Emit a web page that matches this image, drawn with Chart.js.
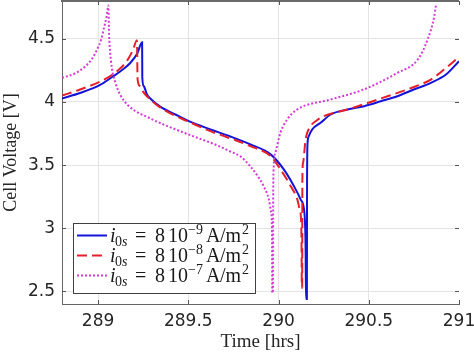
<!DOCTYPE html>
<html><head><meta charset="utf-8">
<script src="https://cdn.jsdelivr.net/npm/chart.js@4.4.1/dist/chart.umd.min.js"></script>
<style>html,body{margin:0;padding:0;background:#fff;overflow:hidden}canvas{display:block}</style>
</head><body>
<canvas id="c" width="474" height="353"></canvas>
<script>
// ---- data ----
const xTickValues = [289, 289.5, 290, 290.5, 291];
const yTickValues = [2.5, 3, 3.5, 4, 4.5];
const xTitle = 'Time [hrs]';
const yTitle = 'Cell Voltage [V]';
const legendExponents = ['\u22129', '\u22128', '\u22127'];

const blueTime = [288.8, 288.9, 289.011, 289.078, 289.122, 289.178, 289.217, 289.244, 289.245, 289.253,
  289.271, 289.289, 289.344, 289.428, 289.506, 289.622, 289.733, 289.844, 289.956, 290.029,
  290.085, 290.122, 290.141, 290.147, 290.150, 290.152, 290.157, 290.158, 290.161, 290.167,
  290.187, 290.233, 290.289, 290.382, 290.474, 290.567, 290.659, 290.75, 290.844, 290.928, 291.0];
const blueVoltage = [4.028, 4.071, 4.135, 4.198, 4.241, 4.309, 4.384, 4.473, 4.194, 4.126,
  4.059, 4.028, 3.964, 3.901, 3.846, 3.783, 3.727, 3.664, 3.585, 3.466,
  3.334, 3.229, 3.150, 3.03, 2.833, 2.44, 2.44, 3.387, 3.680, 3.727,
  3.783, 3.835, 3.901, 3.941, 3.967, 4.006, 4.046, 4.099, 4.152, 4.218, 4.323];

const redTime = [288.8, 288.9, 289.011, 289.067, 289.122, 289.161, 289.194, 289.215, 289.219, 289.233,
  289.25, 289.289, 289.361, 289.494, 289.622, 289.75, 289.844, 289.956, 290.011, 290.067,
  290.104, 290.117, 290.126, 290.128, 290.129, 290.131, 290.132, 290.136, 290.15, 290.178,
  290.211, 290.25, 290.382, 290.567, 290.75, 290.844, 290.917, 291.0];
const redVoltage = [4.051, 4.099, 4.162, 4.205, 4.265, 4.328, 4.415, 4.490, 4.178, 4.125,
  4.08, 4.02, 3.941, 3.849, 3.769, 3.703, 3.650, 3.571, 3.466, 3.334,
  3.229, 3.150, 3.03, 2.754, 2.53, 2.53, 3.387, 3.519, 3.703, 3.809,
  3.854, 3.888, 3.941, 4.028, 4.119, 4.178, 4.257, 4.356];

const magentaTime = [288.8, 288.872, 288.928, 288.967, 288.994, 289.017, 289.033, 289.047, 289.057, 289.061,
  289.067, 289.076, 289.094, 289.122, 289.167, 289.289, 289.472, 289.661, 289.733, 289.789,
  289.844, 289.889, 289.918, 289.946, 289.958, 289.964, 289.965, 289.969, 289.970, 289.972,
  289.983, 290.011, 290.048, 290.104, 290.289, 290.472, 290.659, 290.771, 290.826, 290.863, 290.872];
const magentaVoltage = [4.192, 4.226, 4.281, 4.344, 4.415, 4.495, 4.589, 4.676, 4.765, 4.534,
  4.392, 4.273, 4.162, 4.059, 3.972, 3.870, 3.759, 3.656, 3.608, 3.569,
  3.490, 3.403, 3.332, 3.229, 3.134, 2.952, 2.49, 2.49, 3.150, 3.442,
  3.601, 3.759, 3.862, 3.941, 4.020, 4.099, 4.231, 4.336, 4.495, 4.679, 4.765];

// ---- styling ----
const COLORS = ['#1414d8', '#e4202a', '#d43cd4'];
const DASHES = [[], [10, 5], [2, 2]];
const pairs = (t, v) => t.map((x, i) => ({x: x, y: v[i]}));

const serif = '"Liberation Serif", "Times New Roman", serif';
const sans = '"DejaVu Sans", sans-serif';

const boxPlugin = {
  id: 'box',
  beforeDraw(chart) {
    const c = chart.ctx;
    c.save(); c.fillStyle = '#fff'; c.fillRect(0, 0, chart.width, chart.height); c.restore();
  },
  afterDatasetsDraw(chart) {
    const c = chart.ctx, a = chart.chartArea, xs = chart.scales.x, ys = chart.scales.y;
    c.save();
    // top border
    c.strokeStyle = '#6a6a6a'; c.lineWidth = 2;
    c.beginPath(); c.moveTo(a.left - 1, a.top); c.lineTo(a.right, a.top); c.stroke();
    // inward tick marks
    c.strokeStyle = '#555'; c.lineWidth = 1;
    const L = 4;
    xTickValues.forEach(v => {
      const px = Math.round(xs.getPixelForValue(v)) + 0.5;
      c.beginPath(); c.moveTo(px, a.bottom); c.lineTo(px, a.bottom - L); c.stroke();
      c.beginPath(); c.moveTo(px, a.top); c.lineTo(px, a.top + L); c.stroke();
    });
    yTickValues.forEach(v => {
      const py = Math.round(ys.getPixelForValue(v)) + 0.5;
      c.beginPath(); c.moveTo(a.left, py); c.lineTo(a.left + L, py); c.stroke();
      c.beginPath(); c.moveTo(a.right, py); c.lineTo(a.right - L, py); c.stroke();
    });
    // legend
    const lx = 73, ly = 223, lw = 182, lh = 70;
    c.fillStyle = '#fff'; c.fillRect(lx, ly, lw, lh);
    c.strokeStyle = '#404040'; c.lineWidth = 1;
    c.strokeRect(lx + 0.5, ly + 0.5, lw, lh);
    chart.data.datasets.forEach((ds, i) => {
      const base = ly + 18.5 + i * 20;
      const yLine = base - 6;
      c.save();
      c.strokeStyle = ds.borderColor; c.lineWidth = 2; c.setLineDash(DASHES[i]);
      c.beginPath(); c.moveTo(lx + 4, yLine); c.lineTo(lx + 34, yLine); c.stroke();
      c.restore();
      c.fillStyle = '#1a1a1a'; c.textBaseline = 'alphabetic'; c.textAlign = 'left';
      const x0 = lx + 37;
      const big = '20px ' + serif, bigI = 'italic 20px ' + serif;
      const sm = '14px ' + serif, smI = 'italic 14px ' + serif;
      c.font = bigI; c.fillText('i', x0, base);
      c.font = sm; c.fillText('0', x0 + 5, base + 4);
      c.font = smI; c.fillText('s', x0 + 12, base + 4);
      c.font = big; c.fillText('=', x0 + 25, base);
      c.fillText('8', x0 + 45, base);
      c.fillText('10', x0 + 58, base);
      c.font = sm; c.fillText(legendExponents[i], x0 + 78, base - 8);
      c.font = big; c.fillText('A', x0 + 96, base);
      c.fillText('/', x0 + 110, base);
      c.fillText('m', x0 + 115.5, base);
      c.font = sm; c.fillText('2', x0 + 132, base - 8);
    });
    c.restore();
  }
};

new Chart(document.getElementById('c'), {
  type: 'scatter',
  data: {
    datasets: [
      {label: 'i0s = 8 10^-9 A/m^2', data: pairs(blueTime, blueVoltage), borderColor: COLORS[0], borderDash: DASHES[0], order: 3},
      {label: 'i0s = 8 10^-8 A/m^2', data: pairs(redTime, redVoltage), borderColor: COLORS[1], borderDash: DASHES[1], order: 2},
      {label: 'i0s = 8 10^-7 A/m^2', data: pairs(magentaTime, magentaVoltage), borderColor: COLORS[2], borderDash: DASHES[2], order: 1}
    ].map(d => Object.assign(d, {showLine: true, pointRadius: 0, borderWidth: 2, cubicInterpolationMode: 'monotone', fill: false}))
  },
  options: {
    responsive: false, animation: false, devicePixelRatio: 1,
    layout: {padding: {top: 1, right: 15, left: 0, bottom: 0}},
    plugins: {legend: {display: false}, tooltip: {enabled: false}},
    scales: {
      x: {
        type: 'linear', min: 288.8, max: 291,
        afterFit: s => { s.height = 49; s.paddingLeft = 0; s.paddingRight = 0; },
        afterBuildTicks: s => { s.ticks = xTickValues.map(v => ({value: v})); },
        ticks: {padding: 7, color: '#262626', font: {family: sans, size: 17}, callback: v => String(v), maxRotation: 0, autoSkip: false},
        grid: {drawTicks: false, color: ctx => (ctx.tick && ctx.tick.value === 291) ? 'rgba(0,0,0,0)' : '#e4e4e4'},
        border: {display: true, color: '#666', width: 1},
        title: {display: true, text: xTitle, color: '#262626', font: {family: serif, size: 19}, padding: {top: 0, bottom: 0}}
      },
      y: {
        type: 'linear', min: 2.4, max: 4.8,
        afterFit: s => { s.width = 62; s.paddingTop = 0; s.paddingBottom = 0; },
        afterBuildTicks: s => { s.ticks = yTickValues.map(v => ({value: v})); },
        ticks: {padding: 7, color: '#262626', font: {family: sans, size: 17}, callback: v => String(v)},
        grid: {drawTicks: false, color: '#e4e4e4'},
        border: {display: true, color: '#666', width: 1},
        title: {display: true, text: yTitle, color: '#262626', font: {family: serif, size: 18}, padding: {top: 0, bottom: 0}}
      }
    }
  },
  plugins: [boxPlugin]
});
</script>
</body></html>
